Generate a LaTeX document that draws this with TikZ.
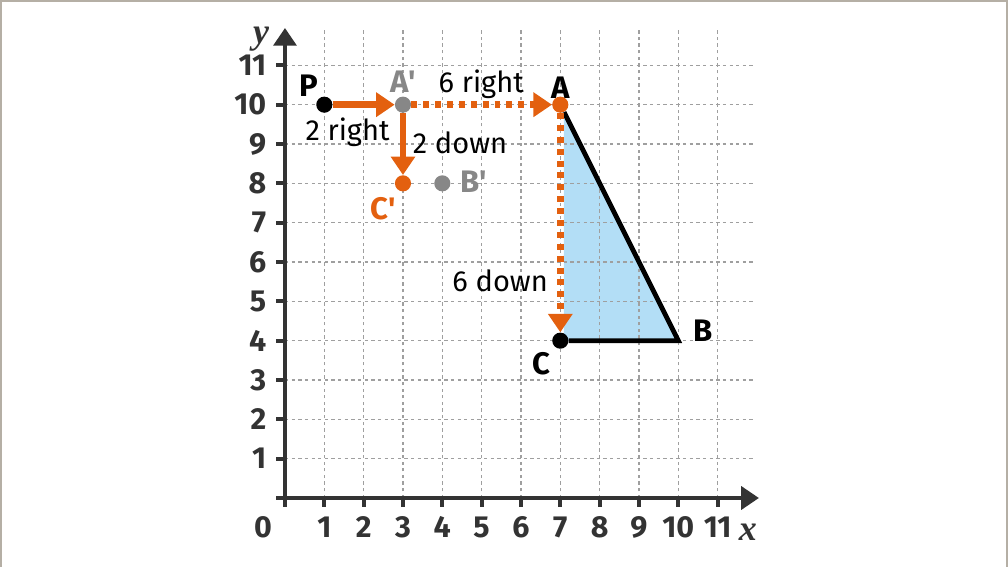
\documentclass[tikz,border=0pt]{standalone}
\usepackage{fontspec}
\setmainfont{Fira Sans}
\newfontfamily\varfont{Liberation Serif}
\usetikzlibrary{arrows.meta,positioning}
\definecolor{bborange}{HTML}{E3600F}
\definecolor{bbblue}{HTML}{B3DEF6}
\definecolor{bbgrey}{HTML}{878787}
\definecolor{bbaxis}{HTML}{333333}
\definecolor{bbframe}{HTML}{B5AFA5}
\begin{document}
\begin{tikzpicture}[x=1cm,y=1cm,
    gridline/.style={draw=gray!75,line width=0.9pt,dash pattern=on 2.4pt off 2.4pt},
    axis/.style={draw=bbaxis,line width=2.9pt,-{Triangle[length=0.45cm,width=0.58cm]}},
    tick/.style={draw=bbaxis,line width=2.9pt},
    num/.style={text=bbaxis,font=\bfseries\fontsize{22}{26}\selectfont,inner sep=0pt},
    var/.style={text=bbaxis,font=\varfont\bfseries\itshape\fontsize{26}{26}\selectfont,inner sep=0pt},
    dot/.style={circle,fill=#1,minimum size=0.41cm,inner sep=0pt},
    ptlabel/.style={font=\bfseries\fontsize{22.5}{26}\selectfont,inner sep=0pt,anchor=base},
    howfar/.style={font=\fontsize{21}{26}\selectfont,inner sep=0pt,anchor=base},
    move/.style={draw=bborange,line width=4.8pt,-{Triangle[length=0.47cm,width=0.6cm]}},
    movedots/.style={move,dash pattern=on 4.3pt off 4.3pt},
    side/.style={draw=black,line width=3.5pt}]
    \useasboundingbox (-7.246,-1.754) rectangle (18.383,12.662);
    \draw[bbframe,line width=1.2pt] (-7.225,-1.754) -- (-7.225,12.641) -- (18.362,12.641) -- (18.362,-1.754);

    % triangle ABC
    \coordinate (a) at (7,10);
    \coordinate (B) at (10,4);
    \coordinate (c) at (7,4);
    \fill[bbblue] ([xshift=0.09cm,yshift=-0.18cm]a) -- (B) -- ([xshift=0.09cm]c) -- cycle;

    % grid and axes
    \draw[gridline] (0,0) grid (11.9,11.9);
    \draw[axis] (-0.22,0) -- (12.05,0);
    \draw[axis] (0,-0.22) -- (0,11.95);
    \foreach \i in {1,...,11} {
        \draw[tick] (\i,0) -- (\i,-0.22);
        \draw[tick] (0,\i) -- (-0.22,\i);
        \node[num] (xn\i) at (\i,-0.74) {\i};
        \node[num,anchor=east] (yn\i) at (-0.47,\i) {\i};
    }
    \node[num] (zero) at (-0.56,-0.74) {0};
    \node[var,anchor=base] (xlab) at (11.77,-1.07) {x};
    \node[var] (ylab) at (-0.61,11.67) {y};

    % points
    \node[dot=black] (P) at (1,10) {};
    \node[dot=bbgrey] (Ap) at (3,10) {};
    \node[dot=bborange] (A) at (a) {};
    \node[dot=bborange] (Cp) at (3,8) {};
    \node[dot=bbgrey] (Bp) at (4,8) {};
    \node[dot=black] (C) at (c) {};
    \draw[side] (A) -- (B) -- (C);

    % moves
    \path (P) edge[move] (Ap)
          (Ap) edge[move] (Cp)
          (Ap) edge[movedots] (A)
          (A) edge[movedots] (C);

    % labels
    \node[ptlabel] (Plab) at (0.61,10.22) {P};
    \node[ptlabel,text=bbgrey] (Aplab) at (3.0,10.32) {A\textquotesingle};
    \node[ptlabel] (Alab) at (7.0,10.17) {A};
    \node[ptlabel,text=bborange] (Cplab) at (2.5,7.07) {C\textquotesingle};
    \node[ptlabel,text=bbgrey,anchor=base west] (Bplab) at (4.45,7.78) {B\textquotesingle};
    \node[ptlabel] (Blab) at (10.63,3.97) {B};
    \node[ptlabel] (Clab) at (6.51,3.13) {C};
    \node[howfar] (right2) at (1.59,9.10) {2 right};
    \node[howfar] (right6) at (4.99,10.32) {6 right};
    \node[howfar] (down2) at (4.45,8.77) {2 down};
    \node[howfar] (down6) at (5.47,5.24) {6 down};
\end{tikzpicture}
\end{document}
